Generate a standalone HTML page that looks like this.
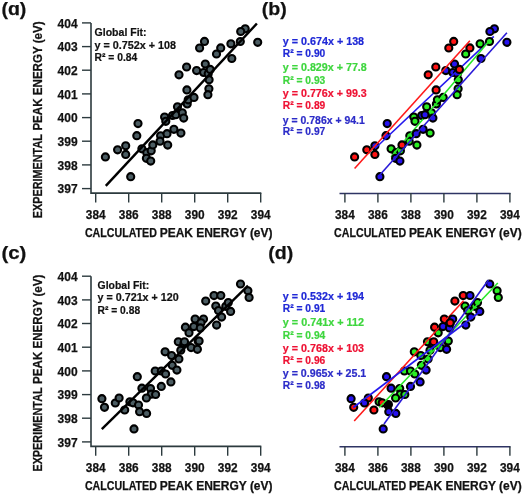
<!DOCTYPE html>
<html><head><meta charset="utf-8"><style>
html,body{margin:0;padding:0;background:#fff;width:524px;height:494px;overflow:hidden}
svg{display:block;will-change:transform}
</style></head><body>
<svg width="524" height="494" viewBox="0 0 524 494">
<rect width="524" height="494" fill="#fff"/>
<text x="1.4" y="15.2" font-family="Liberation Sans, sans-serif" font-weight="bold" stroke-width="0.25" paint-order="stroke" font-size="19" textLength="25" lengthAdjust="spacingAndGlyphs" fill="#111" stroke="#111">(ɑ)</text>
<line x1="82" y1="22.9" x2="91" y2="22.9" stroke="#2c3a3e" stroke-width="1.4"/>
<text x="77.6" y="27.5" font-family="Liberation Sans, sans-serif" font-weight="bold" stroke-width="0.25" paint-order="stroke" font-size="13" text-anchor="end" textLength="20" lengthAdjust="spacingAndGlyphs" fill="#111" stroke="#111">404</text>
<line x1="82" y1="46.6" x2="91" y2="46.6" stroke="#2c3a3e" stroke-width="1.4"/>
<text x="77.6" y="51.2" font-family="Liberation Sans, sans-serif" font-weight="bold" stroke-width="0.25" paint-order="stroke" font-size="13" text-anchor="end" textLength="20" lengthAdjust="spacingAndGlyphs" fill="#111" stroke="#111">403</text>
<line x1="82" y1="70.2" x2="91" y2="70.2" stroke="#2c3a3e" stroke-width="1.4"/>
<text x="77.6" y="74.8" font-family="Liberation Sans, sans-serif" font-weight="bold" stroke-width="0.25" paint-order="stroke" font-size="13" text-anchor="end" textLength="20" lengthAdjust="spacingAndGlyphs" fill="#111" stroke="#111">402</text>
<line x1="82" y1="93.9" x2="91" y2="93.9" stroke="#2c3a3e" stroke-width="1.4"/>
<text x="77.6" y="98.5" font-family="Liberation Sans, sans-serif" font-weight="bold" stroke-width="0.25" paint-order="stroke" font-size="13" text-anchor="end" textLength="20" lengthAdjust="spacingAndGlyphs" fill="#111" stroke="#111">401</text>
<line x1="82" y1="117.6" x2="91" y2="117.6" stroke="#2c3a3e" stroke-width="1.4"/>
<text x="77.6" y="122.2" font-family="Liberation Sans, sans-serif" font-weight="bold" stroke-width="0.25" paint-order="stroke" font-size="13" text-anchor="end" textLength="20" lengthAdjust="spacingAndGlyphs" fill="#111" stroke="#111">400</text>
<line x1="82" y1="141.2" x2="91" y2="141.2" stroke="#2c3a3e" stroke-width="1.4"/>
<text x="77.6" y="145.8" font-family="Liberation Sans, sans-serif" font-weight="bold" stroke-width="0.25" paint-order="stroke" font-size="13" text-anchor="end" textLength="20" lengthAdjust="spacingAndGlyphs" fill="#111" stroke="#111">399</text>
<line x1="82" y1="164.9" x2="91" y2="164.9" stroke="#2c3a3e" stroke-width="1.4"/>
<text x="77.6" y="169.5" font-family="Liberation Sans, sans-serif" font-weight="bold" stroke-width="0.25" paint-order="stroke" font-size="13" text-anchor="end" textLength="20" lengthAdjust="spacingAndGlyphs" fill="#111" stroke="#111">398</text>
<line x1="82" y1="188.6" x2="91" y2="188.6" stroke="#2c3a3e" stroke-width="1.4"/>
<text x="77.6" y="193.2" font-family="Liberation Sans, sans-serif" font-weight="bold" stroke-width="0.25" paint-order="stroke" font-size="13" text-anchor="end" textLength="20" lengthAdjust="spacingAndGlyphs" fill="#111" stroke="#111">397</text>
<text transform="translate(42.1 218.3) rotate(-90)" font-family="Liberation Sans, sans-serif" font-weight="bold" stroke-width="0.25" paint-order="stroke" font-size="12.7" textLength="84.2" lengthAdjust="spacingAndGlyphs" fill="#111" stroke="#111">EXPERIMENTAL</text>
<text transform="translate(42.1 130.6) rotate(-90)" font-family="Liberation Sans, sans-serif" font-weight="bold" stroke-width="0.25" paint-order="stroke" font-size="12.7" textLength="109.2" lengthAdjust="spacingAndGlyphs" fill="#111" stroke="#111">PEAK ENERGY (eV)</text>
<path d="M91.0 22.9 V193.1 H261.3" fill="none" stroke="#2c3a3e" stroke-width="1.6"/>
<line x1="95.7" y1="193.1" x2="95.7" y2="202.5" stroke="#2c3a3e" stroke-width="1.4"/>
<text x="95.7" y="219.1" font-family="Liberation Sans, sans-serif" font-weight="bold" stroke-width="0.25" paint-order="stroke" font-size="13" text-anchor="middle" textLength="19.8" lengthAdjust="spacingAndGlyphs" fill="#111" stroke="#111">384</text>
<line x1="128.7" y1="193.1" x2="128.7" y2="202.5" stroke="#2c3a3e" stroke-width="1.4"/>
<text x="128.7" y="219.1" font-family="Liberation Sans, sans-serif" font-weight="bold" stroke-width="0.25" paint-order="stroke" font-size="13" text-anchor="middle" textLength="19.8" lengthAdjust="spacingAndGlyphs" fill="#111" stroke="#111">386</text>
<line x1="161.7" y1="193.1" x2="161.7" y2="202.5" stroke="#2c3a3e" stroke-width="1.4"/>
<text x="161.7" y="219.1" font-family="Liberation Sans, sans-serif" font-weight="bold" stroke-width="0.25" paint-order="stroke" font-size="13" text-anchor="middle" textLength="19.8" lengthAdjust="spacingAndGlyphs" fill="#111" stroke="#111">388</text>
<line x1="194.7" y1="193.1" x2="194.7" y2="202.5" stroke="#2c3a3e" stroke-width="1.4"/>
<text x="194.7" y="219.1" font-family="Liberation Sans, sans-serif" font-weight="bold" stroke-width="0.25" paint-order="stroke" font-size="13" text-anchor="middle" textLength="19.8" lengthAdjust="spacingAndGlyphs" fill="#111" stroke="#111">390</text>
<line x1="227.7" y1="193.1" x2="227.7" y2="202.5" stroke="#2c3a3e" stroke-width="1.4"/>
<text x="227.7" y="219.1" font-family="Liberation Sans, sans-serif" font-weight="bold" stroke-width="0.25" paint-order="stroke" font-size="13" text-anchor="middle" textLength="19.8" lengthAdjust="spacingAndGlyphs" fill="#111" stroke="#111">392</text>
<line x1="260.7" y1="193.1" x2="260.7" y2="202.5" stroke="#2c3a3e" stroke-width="1.4"/>
<text x="260.7" y="219.1" font-family="Liberation Sans, sans-serif" font-weight="bold" stroke-width="0.25" paint-order="stroke" font-size="13" text-anchor="middle" textLength="19.8" lengthAdjust="spacingAndGlyphs" fill="#111" stroke="#111">394</text>
<text x="84.9" y="236.6" font-family="Liberation Sans, sans-serif" font-weight="bold" stroke-width="0.25" paint-order="stroke" font-size="12" textLength="72" lengthAdjust="spacingAndGlyphs" fill="#111" stroke="#111">CALCULATED</text>
<text x="159.7" y="236.6" font-family="Liberation Sans, sans-serif" font-weight="bold" stroke-width="0.25" paint-order="stroke" font-size="12" textLength="112.8" lengthAdjust="spacingAndGlyphs" fill="#111" stroke="#111">PEAK ENERGY (eV)</text>
<text x="94.6" y="36.0" font-family="Liberation Sans, sans-serif" font-weight="bold" stroke-width="0.22" paint-order="stroke" font-size="11.6" textLength="52" lengthAdjust="spacingAndGlyphs" fill="#111" stroke="#111">Global Fit:</text>
<text x="94.6" y="49.0" font-family="Liberation Sans, sans-serif" font-weight="bold" stroke-width="0.22" paint-order="stroke" font-size="11.6" textLength="81.5" lengthAdjust="spacingAndGlyphs" fill="#111" stroke="#111">y = 0.752x + 108</text>
<text x="94.6" y="61.2" font-family="Liberation Sans, sans-serif" font-weight="bold" stroke-width="0.22" paint-order="stroke" font-size="11.6" textLength="42.7" lengthAdjust="spacingAndGlyphs" fill="#111" stroke="#111">R² = 0.84</text>
<g stroke="#000" stroke-width="2.1"><circle cx="105.4" cy="156.9" r="3.55" fill="#4b5c62"/>
<circle cx="117.6" cy="149.8" r="3.55" fill="#4b5c62"/>
<circle cx="125.7" cy="145.8" r="3.55" fill="#4b5c62"/>
<circle cx="125.7" cy="154.4" r="3.55" fill="#4b5c62"/>
<circle cx="136.8" cy="135.7" r="3.55" fill="#4b5c62"/>
<circle cx="138.0" cy="123.6" r="3.55" fill="#4b5c62"/>
<circle cx="130.7" cy="176.7" r="3.55" fill="#4b5c62"/>
<circle cx="141.9" cy="148.8" r="3.55" fill="#4b5c62"/>
<circle cx="146.8" cy="152.7" r="3.55" fill="#4b5c62"/>
<circle cx="151.2" cy="150.8" r="3.55" fill="#4b5c62"/>
<circle cx="146.4" cy="158.3" r="3.55" fill="#4b5c62"/>
<circle cx="150.7" cy="161.1" r="3.55" fill="#4b5c62"/>
<circle cx="152.8" cy="144.9" r="3.55" fill="#4b5c62"/>
<circle cx="160.6" cy="135.8" r="3.55" fill="#4b5c62"/>
<circle cx="160.0" cy="141.2" r="3.55" fill="#4b5c62"/>
<circle cx="167.0" cy="133.7" r="3.55" fill="#4b5c62"/>
<circle cx="167.7" cy="145.1" r="3.55" fill="#4b5c62"/>
<circle cx="173.9" cy="129.3" r="3.55" fill="#4b5c62"/>
<circle cx="180.9" cy="133.1" r="3.55" fill="#4b5c62"/>
<circle cx="164.6" cy="117.0" r="3.55" fill="#4b5c62"/>
<circle cx="165.8" cy="121.3" r="3.55" fill="#4b5c62"/>
<circle cx="172.5" cy="115.5" r="3.55" fill="#4b5c62"/>
<circle cx="175.8" cy="114.7" r="3.55" fill="#4b5c62"/>
<circle cx="177.5" cy="106.8" r="3.55" fill="#4b5c62"/>
<circle cx="182.3" cy="112.8" r="3.55" fill="#4b5c62"/>
<circle cx="183.7" cy="118.1" r="3.55" fill="#4b5c62"/>
<circle cx="187.2" cy="104.0" r="3.55" fill="#4b5c62"/>
<circle cx="188.2" cy="99.8" r="3.55" fill="#4b5c62"/>
<circle cx="194.0" cy="97.4" r="3.55" fill="#4b5c62"/>
<circle cx="186.9" cy="89.9" r="3.55" fill="#4b5c62"/>
<circle cx="186.6" cy="67.0" r="3.55" fill="#4b5c62"/>
<circle cx="179.0" cy="74.8" r="3.55" fill="#4b5c62"/>
<circle cx="196.6" cy="70.6" r="3.55" fill="#4b5c62"/>
<circle cx="205.3" cy="64.0" r="3.55" fill="#4b5c62"/>
<circle cx="203.6" cy="72.5" r="3.55" fill="#4b5c62"/>
<circle cx="208.2" cy="73.8" r="3.55" fill="#4b5c62"/>
<circle cx="210.2" cy="69.4" r="3.55" fill="#4b5c62"/>
<circle cx="209.1" cy="79.8" r="3.55" fill="#4b5c62"/>
<circle cx="208.9" cy="88.8" r="3.55" fill="#4b5c62"/>
<circle cx="207.9" cy="94.7" r="3.55" fill="#4b5c62"/>
<circle cx="204.5" cy="41.4" r="3.55" fill="#4b5c62"/>
<circle cx="199.6" cy="48.0" r="3.55" fill="#4b5c62"/>
<circle cx="220.7" cy="47.9" r="3.55" fill="#4b5c62"/>
<circle cx="216.5" cy="54.0" r="3.55" fill="#4b5c62"/>
<circle cx="230.9" cy="43.8" r="3.55" fill="#4b5c62"/>
<circle cx="231.8" cy="58.5" r="3.55" fill="#4b5c62"/>
<circle cx="240.3" cy="41.5" r="3.55" fill="#4b5c62"/>
<circle cx="245.2" cy="28.8" r="3.55" fill="#4b5c62"/>
<circle cx="240.7" cy="31.5" r="3.55" fill="#4b5c62"/>
<circle cx="257.7" cy="42.3" r="3.55" fill="#4b5c62"/></g>
<line x1="105.8" y1="185.9" x2="256.9" y2="23.5" stroke="#000" stroke-width="2.4" stroke-linecap="butt"/>
<text x="261.8" y="15.2" font-family="Liberation Sans, sans-serif" font-weight="bold" stroke-width="0.25" paint-order="stroke" font-size="19" textLength="25" lengthAdjust="spacingAndGlyphs" fill="#111" stroke="#111">(b)</text>
<path d="M339.5 193.5 H510.5" fill="none" stroke="#2e3464" stroke-width="1.5"/>
<line x1="344.9" y1="193.1" x2="344.9" y2="202.5" stroke="#2c3a3e" stroke-width="1.4"/>
<text x="344.9" y="219.1" font-family="Liberation Sans, sans-serif" font-weight="bold" stroke-width="0.25" paint-order="stroke" font-size="13" text-anchor="middle" textLength="19.8" lengthAdjust="spacingAndGlyphs" fill="#111" stroke="#111">384</text>
<line x1="377.9" y1="193.1" x2="377.9" y2="202.5" stroke="#2c3a3e" stroke-width="1.4"/>
<text x="377.9" y="219.1" font-family="Liberation Sans, sans-serif" font-weight="bold" stroke-width="0.25" paint-order="stroke" font-size="13" text-anchor="middle" textLength="19.8" lengthAdjust="spacingAndGlyphs" fill="#111" stroke="#111">386</text>
<line x1="410.9" y1="193.1" x2="410.9" y2="202.5" stroke="#2c3a3e" stroke-width="1.4"/>
<text x="410.9" y="219.1" font-family="Liberation Sans, sans-serif" font-weight="bold" stroke-width="0.25" paint-order="stroke" font-size="13" text-anchor="middle" textLength="19.8" lengthAdjust="spacingAndGlyphs" fill="#111" stroke="#111">388</text>
<line x1="443.9" y1="193.1" x2="443.9" y2="202.5" stroke="#2c3a3e" stroke-width="1.4"/>
<text x="443.9" y="219.1" font-family="Liberation Sans, sans-serif" font-weight="bold" stroke-width="0.25" paint-order="stroke" font-size="13" text-anchor="middle" textLength="19.8" lengthAdjust="spacingAndGlyphs" fill="#111" stroke="#111">390</text>
<line x1="476.9" y1="193.1" x2="476.9" y2="202.5" stroke="#2c3a3e" stroke-width="1.4"/>
<text x="476.9" y="219.1" font-family="Liberation Sans, sans-serif" font-weight="bold" stroke-width="0.25" paint-order="stroke" font-size="13" text-anchor="middle" textLength="19.8" lengthAdjust="spacingAndGlyphs" fill="#111" stroke="#111">392</text>
<line x1="509.9" y1="193.1" x2="509.9" y2="202.5" stroke="#2c3a3e" stroke-width="1.4"/>
<text x="509.9" y="219.1" font-family="Liberation Sans, sans-serif" font-weight="bold" stroke-width="0.25" paint-order="stroke" font-size="13" text-anchor="middle" textLength="19.8" lengthAdjust="spacingAndGlyphs" fill="#111" stroke="#111">394</text>
<text x="334.1" y="236.6" font-family="Liberation Sans, sans-serif" font-weight="bold" stroke-width="0.25" paint-order="stroke" font-size="12" textLength="72" lengthAdjust="spacingAndGlyphs" fill="#111" stroke="#111">CALCULATED</text>
<text x="408.9" y="236.6" font-family="Liberation Sans, sans-serif" font-weight="bold" stroke-width="0.25" paint-order="stroke" font-size="12" textLength="112.8" lengthAdjust="spacingAndGlyphs" fill="#111" stroke="#111">PEAK ENERGY (eV)</text>
<text x="282.8" y="44.5" font-family="Liberation Sans, sans-serif" font-weight="bold" stroke-width="0.22" paint-order="stroke" font-size="11.6" textLength="81.3" lengthAdjust="spacingAndGlyphs" fill="#1f28d6" stroke="#1f28d6">y = 0.674x + 138</text>
<text x="282.8" y="56.7" font-family="Liberation Sans, sans-serif" font-weight="bold" stroke-width="0.22" paint-order="stroke" font-size="11.6" textLength="42.5" lengthAdjust="spacingAndGlyphs" fill="#1f28d6" stroke="#1f28d6">R² = 0.90</text>
<text x="282.8" y="71.2" font-family="Liberation Sans, sans-serif" font-weight="bold" stroke-width="0.22" paint-order="stroke" font-size="11.6" textLength="84" lengthAdjust="spacingAndGlyphs" fill="#3ed63e" stroke="#3ed63e">y = 0.829x + 77.8</text>
<text x="282.8" y="83.5" font-family="Liberation Sans, sans-serif" font-weight="bold" stroke-width="0.22" paint-order="stroke" font-size="11.6" textLength="42.5" lengthAdjust="spacingAndGlyphs" fill="#3ed63e" stroke="#3ed63e">R² = 0.93</text>
<text x="282.8" y="96.8" font-family="Liberation Sans, sans-serif" font-weight="bold" stroke-width="0.22" paint-order="stroke" font-size="11.6" textLength="84" lengthAdjust="spacingAndGlyphs" fill="#ee1133" stroke="#ee1133">y = 0.776x + 99.3</text>
<text x="282.8" y="109.0" font-family="Liberation Sans, sans-serif" font-weight="bold" stroke-width="0.22" paint-order="stroke" font-size="11.6" textLength="42.5" lengthAdjust="spacingAndGlyphs" fill="#ee1133" stroke="#ee1133">R² = 0.89</text>
<text x="282.8" y="123.5" font-family="Liberation Sans, sans-serif" font-weight="bold" stroke-width="0.22" paint-order="stroke" font-size="11.6" textLength="82" lengthAdjust="spacingAndGlyphs" fill="#2b2bc8" stroke="#2b2bc8">y = 0.786x + 94.1</text>
<text x="282.8" y="134.7" font-family="Liberation Sans, sans-serif" font-weight="bold" stroke-width="0.22" paint-order="stroke" font-size="11.6" textLength="42.5" lengthAdjust="spacingAndGlyphs" fill="#2b2bc8" stroke="#2b2bc8">R² = 0.97</text>
<g stroke="#000" stroke-width="2.1"><circle cx="374.9" cy="145.8" r="3.55" fill="#2612f0"/>
<circle cx="386.0" cy="135.7" r="3.55" fill="#2612f0"/>
<circle cx="387.2" cy="123.6" r="3.55" fill="#2612f0"/>
<circle cx="421.7" cy="115.5" r="3.55" fill="#2612f0"/>
<circle cx="445.8" cy="70.6" r="3.55" fill="#2612f0"/>
<circle cx="454.5" cy="64.0" r="3.55" fill="#2612f0"/>
<circle cx="452.8" cy="72.5" r="3.55" fill="#2612f0"/>
<circle cx="457.4" cy="73.8" r="3.55" fill="#2612f0"/>
<circle cx="494.4" cy="28.8" r="3.55" fill="#2612f0"/>
<circle cx="489.9" cy="31.5" r="3.55" fill="#2612f0"/></g>
<line x1="375" y1="148.5" x2="493.8" y2="36.3" stroke="#2418ee" stroke-width="1.6"/>
<g stroke="#000" stroke-width="2.1"><circle cx="391.1" cy="148.8" r="3.55" fill="#2aee22"/>
<circle cx="396.0" cy="152.7" r="3.55" fill="#2aee22"/>
<circle cx="400.4" cy="150.8" r="3.55" fill="#2aee22"/>
<circle cx="409.8" cy="135.8" r="3.55" fill="#2aee22"/>
<circle cx="409.2" cy="141.2" r="3.55" fill="#2aee22"/>
<circle cx="416.9" cy="145.1" r="3.55" fill="#2aee22"/>
<circle cx="430.1" cy="133.1" r="3.55" fill="#2aee22"/>
<circle cx="413.8" cy="117.0" r="3.55" fill="#2aee22"/>
<circle cx="415.0" cy="121.3" r="3.55" fill="#2aee22"/>
<circle cx="426.7" cy="106.8" r="3.55" fill="#2aee22"/>
<circle cx="431.5" cy="112.8" r="3.55" fill="#2aee22"/>
<circle cx="436.4" cy="104.0" r="3.55" fill="#2aee22"/>
<circle cx="437.4" cy="99.8" r="3.55" fill="#2aee22"/>
<circle cx="443.2" cy="97.4" r="3.55" fill="#2aee22"/>
<circle cx="458.3" cy="79.8" r="3.55" fill="#2aee22"/>
<circle cx="458.1" cy="88.8" r="3.55" fill="#2aee22"/>
<circle cx="457.1" cy="94.7" r="3.55" fill="#2aee22"/>
<circle cx="465.7" cy="54.0" r="3.55" fill="#2aee22"/>
<circle cx="480.1" cy="43.8" r="3.55" fill="#2aee22"/>
<circle cx="489.5" cy="41.5" r="3.55" fill="#2aee22"/></g>
<line x1="391.1" y1="156.8" x2="489.5" y2="40.4" stroke="#2ae82a" stroke-width="1.6"/>
<g stroke="#000" stroke-width="2.1"><circle cx="354.6" cy="156.9" r="3.55" fill="#ff1414"/>
<circle cx="366.8" cy="149.8" r="3.55" fill="#ff1414"/>
<circle cx="374.9" cy="154.4" r="3.55" fill="#ff1414"/>
<circle cx="402.0" cy="144.9" r="3.55" fill="#ff1414"/>
<circle cx="436.1" cy="89.9" r="3.55" fill="#ff1414"/>
<circle cx="435.8" cy="67.0" r="3.55" fill="#ff1414"/>
<circle cx="428.2" cy="74.8" r="3.55" fill="#ff1414"/>
<circle cx="459.4" cy="69.4" r="3.55" fill="#ff1414"/>
<circle cx="453.7" cy="41.4" r="3.55" fill="#ff1414"/>
<circle cx="448.8" cy="48.0" r="3.55" fill="#ff1414"/>
<circle cx="469.9" cy="47.9" r="3.55" fill="#ff1414"/></g>
<line x1="354.6" y1="168.5" x2="469.9" y2="40.7" stroke="#ff1a1a" stroke-width="1.6"/>
<g stroke="#000" stroke-width="2.1"><circle cx="379.9" cy="176.7" r="3.55" fill="#2612f0"/>
<circle cx="395.6" cy="158.3" r="3.55" fill="#2612f0"/>
<circle cx="399.9" cy="161.1" r="3.55" fill="#2612f0"/>
<circle cx="416.2" cy="133.7" r="3.55" fill="#2612f0"/>
<circle cx="423.1" cy="129.3" r="3.55" fill="#2612f0"/>
<circle cx="425.0" cy="114.7" r="3.55" fill="#2612f0"/>
<circle cx="432.9" cy="118.1" r="3.55" fill="#2612f0"/>
<circle cx="481.0" cy="58.5" r="3.55" fill="#2612f0"/>
<circle cx="506.9" cy="42.3" r="3.55" fill="#2612f0"/></g>
<line x1="379.8" y1="175" x2="506.9" y2="32.7" stroke="#2a1ad8" stroke-width="1.6"/>
<text x="1.4" y="259.2" font-family="Liberation Sans, sans-serif" font-weight="bold" stroke-width="0.25" paint-order="stroke" font-size="19" textLength="25" lengthAdjust="spacingAndGlyphs" fill="#111" stroke="#111">(c)</text>
<line x1="82" y1="276.2" x2="91" y2="276.2" stroke="#2c3a3e" stroke-width="1.4"/>
<text x="77.6" y="280.8" font-family="Liberation Sans, sans-serif" font-weight="bold" stroke-width="0.25" paint-order="stroke" font-size="13" text-anchor="end" textLength="20" lengthAdjust="spacingAndGlyphs" fill="#111" stroke="#111">404</text>
<line x1="82" y1="299.9" x2="91" y2="299.9" stroke="#2c3a3e" stroke-width="1.4"/>
<text x="77.6" y="304.5" font-family="Liberation Sans, sans-serif" font-weight="bold" stroke-width="0.25" paint-order="stroke" font-size="13" text-anchor="end" textLength="20" lengthAdjust="spacingAndGlyphs" fill="#111" stroke="#111">403</text>
<line x1="82" y1="323.5" x2="91" y2="323.5" stroke="#2c3a3e" stroke-width="1.4"/>
<text x="77.6" y="328.1" font-family="Liberation Sans, sans-serif" font-weight="bold" stroke-width="0.25" paint-order="stroke" font-size="13" text-anchor="end" textLength="20" lengthAdjust="spacingAndGlyphs" fill="#111" stroke="#111">402</text>
<line x1="82" y1="347.2" x2="91" y2="347.2" stroke="#2c3a3e" stroke-width="1.4"/>
<text x="77.6" y="351.8" font-family="Liberation Sans, sans-serif" font-weight="bold" stroke-width="0.25" paint-order="stroke" font-size="13" text-anchor="end" textLength="20" lengthAdjust="spacingAndGlyphs" fill="#111" stroke="#111">401</text>
<line x1="82" y1="370.9" x2="91" y2="370.9" stroke="#2c3a3e" stroke-width="1.4"/>
<text x="77.6" y="375.5" font-family="Liberation Sans, sans-serif" font-weight="bold" stroke-width="0.25" paint-order="stroke" font-size="13" text-anchor="end" textLength="20" lengthAdjust="spacingAndGlyphs" fill="#111" stroke="#111">400</text>
<line x1="82" y1="394.6" x2="91" y2="394.6" stroke="#2c3a3e" stroke-width="1.4"/>
<text x="77.6" y="399.2" font-family="Liberation Sans, sans-serif" font-weight="bold" stroke-width="0.25" paint-order="stroke" font-size="13" text-anchor="end" textLength="20" lengthAdjust="spacingAndGlyphs" fill="#111" stroke="#111">399</text>
<line x1="82" y1="418.2" x2="91" y2="418.2" stroke="#2c3a3e" stroke-width="1.4"/>
<text x="77.6" y="422.8" font-family="Liberation Sans, sans-serif" font-weight="bold" stroke-width="0.25" paint-order="stroke" font-size="13" text-anchor="end" textLength="20" lengthAdjust="spacingAndGlyphs" fill="#111" stroke="#111">398</text>
<line x1="82" y1="441.9" x2="91" y2="441.9" stroke="#2c3a3e" stroke-width="1.4"/>
<text x="77.6" y="446.5" font-family="Liberation Sans, sans-serif" font-weight="bold" stroke-width="0.25" paint-order="stroke" font-size="13" text-anchor="end" textLength="20" lengthAdjust="spacingAndGlyphs" fill="#111" stroke="#111">397</text>
<text transform="translate(42.1 471.6) rotate(-90)" font-family="Liberation Sans, sans-serif" font-weight="bold" stroke-width="0.25" paint-order="stroke" font-size="12.7" textLength="84.2" lengthAdjust="spacingAndGlyphs" fill="#111" stroke="#111">EXPERIMENTAL</text>
<text transform="translate(42.1 383.9) rotate(-90)" font-family="Liberation Sans, sans-serif" font-weight="bold" stroke-width="0.25" paint-order="stroke" font-size="12.7" textLength="109.2" lengthAdjust="spacingAndGlyphs" fill="#111" stroke="#111">PEAK ENERGY (eV)</text>
<path d="M91.0 276.2 V446.4 H261.3" fill="none" stroke="#2c3a3e" stroke-width="1.6"/>
<line x1="95.7" y1="446.4" x2="95.7" y2="455.8" stroke="#2c3a3e" stroke-width="1.4"/>
<text x="95.7" y="472.4" font-family="Liberation Sans, sans-serif" font-weight="bold" stroke-width="0.25" paint-order="stroke" font-size="13" text-anchor="middle" textLength="19.8" lengthAdjust="spacingAndGlyphs" fill="#111" stroke="#111">384</text>
<line x1="128.7" y1="446.4" x2="128.7" y2="455.8" stroke="#2c3a3e" stroke-width="1.4"/>
<text x="128.7" y="472.4" font-family="Liberation Sans, sans-serif" font-weight="bold" stroke-width="0.25" paint-order="stroke" font-size="13" text-anchor="middle" textLength="19.8" lengthAdjust="spacingAndGlyphs" fill="#111" stroke="#111">386</text>
<line x1="161.7" y1="446.4" x2="161.7" y2="455.8" stroke="#2c3a3e" stroke-width="1.4"/>
<text x="161.7" y="472.4" font-family="Liberation Sans, sans-serif" font-weight="bold" stroke-width="0.25" paint-order="stroke" font-size="13" text-anchor="middle" textLength="19.8" lengthAdjust="spacingAndGlyphs" fill="#111" stroke="#111">388</text>
<line x1="194.7" y1="446.4" x2="194.7" y2="455.8" stroke="#2c3a3e" stroke-width="1.4"/>
<text x="194.7" y="472.4" font-family="Liberation Sans, sans-serif" font-weight="bold" stroke-width="0.25" paint-order="stroke" font-size="13" text-anchor="middle" textLength="19.8" lengthAdjust="spacingAndGlyphs" fill="#111" stroke="#111">390</text>
<line x1="227.7" y1="446.4" x2="227.7" y2="455.8" stroke="#2c3a3e" stroke-width="1.4"/>
<text x="227.7" y="472.4" font-family="Liberation Sans, sans-serif" font-weight="bold" stroke-width="0.25" paint-order="stroke" font-size="13" text-anchor="middle" textLength="19.8" lengthAdjust="spacingAndGlyphs" fill="#111" stroke="#111">392</text>
<line x1="260.7" y1="446.4" x2="260.7" y2="455.8" stroke="#2c3a3e" stroke-width="1.4"/>
<text x="260.7" y="472.4" font-family="Liberation Sans, sans-serif" font-weight="bold" stroke-width="0.25" paint-order="stroke" font-size="13" text-anchor="middle" textLength="19.8" lengthAdjust="spacingAndGlyphs" fill="#111" stroke="#111">394</text>
<text x="84.9" y="489.9" font-family="Liberation Sans, sans-serif" font-weight="bold" stroke-width="0.25" paint-order="stroke" font-size="12" textLength="72" lengthAdjust="spacingAndGlyphs" fill="#111" stroke="#111">CALCULATED</text>
<text x="159.7" y="489.9" font-family="Liberation Sans, sans-serif" font-weight="bold" stroke-width="0.25" paint-order="stroke" font-size="12" textLength="112.8" lengthAdjust="spacingAndGlyphs" fill="#111" stroke="#111">PEAK ENERGY (eV)</text>
<text x="97.6" y="289.1" font-family="Liberation Sans, sans-serif" font-weight="bold" stroke-width="0.22" paint-order="stroke" font-size="11.6" textLength="51.6" lengthAdjust="spacingAndGlyphs" fill="#111" stroke="#111">Global Fit:</text>
<text x="97.6" y="300.9" font-family="Liberation Sans, sans-serif" font-weight="bold" stroke-width="0.22" paint-order="stroke" font-size="11.6" textLength="81.1" lengthAdjust="spacingAndGlyphs" fill="#111" stroke="#111">y = 0.721x + 120</text>
<text x="97.6" y="313.5" font-family="Liberation Sans, sans-serif" font-weight="bold" stroke-width="0.22" paint-order="stroke" font-size="11.6" textLength="42.5" lengthAdjust="spacingAndGlyphs" fill="#111" stroke="#111">R² = 0.88</text>
<g stroke="#000" stroke-width="2.1"><circle cx="101.9" cy="398.7" r="3.55" fill="#4b5c62"/>
<circle cx="104.5" cy="407.3" r="3.55" fill="#4b5c62"/>
<circle cx="115.3" cy="403.0" r="3.55" fill="#4b5c62"/>
<circle cx="119.1" cy="398.0" r="3.55" fill="#4b5c62"/>
<circle cx="124.7" cy="410.0" r="3.55" fill="#4b5c62"/>
<circle cx="129.9" cy="401.8" r="3.55" fill="#4b5c62"/>
<circle cx="133.0" cy="402.8" r="3.55" fill="#4b5c62"/>
<circle cx="134.0" cy="428.9" r="3.55" fill="#4b5c62"/>
<circle cx="137.3" cy="376.7" r="3.55" fill="#4b5c62"/>
<circle cx="138.5" cy="405.0" r="3.55" fill="#4b5c62"/>
<circle cx="139.6" cy="411.7" r="3.55" fill="#4b5c62"/>
<circle cx="146.6" cy="413.4" r="3.55" fill="#4b5c62"/>
<circle cx="141.9" cy="388.2" r="3.55" fill="#4b5c62"/>
<circle cx="150.5" cy="388.5" r="3.55" fill="#4b5c62"/>
<circle cx="151.2" cy="394.2" r="3.55" fill="#4b5c62"/>
<circle cx="155.6" cy="394.5" r="3.55" fill="#4b5c62"/>
<circle cx="146.4" cy="398.0" r="3.55" fill="#4b5c62"/>
<circle cx="161.3" cy="386.4" r="3.55" fill="#4b5c62"/>
<circle cx="170.9" cy="381.9" r="3.55" fill="#4b5c62"/>
<circle cx="155.2" cy="371.0" r="3.55" fill="#4b5c62"/>
<circle cx="161.3" cy="371.0" r="3.55" fill="#4b5c62"/>
<circle cx="165.6" cy="374.0" r="3.55" fill="#4b5c62"/>
<circle cx="165.1" cy="351.8" r="3.55" fill="#4b5c62"/>
<circle cx="171.6" cy="355.5" r="3.55" fill="#4b5c62"/>
<circle cx="178.9" cy="359.0" r="3.55" fill="#4b5c62"/>
<circle cx="172.2" cy="365.3" r="3.55" fill="#4b5c62"/>
<circle cx="176.9" cy="370.1" r="3.55" fill="#4b5c62"/>
<circle cx="178.3" cy="341.8" r="3.55" fill="#4b5c62"/>
<circle cx="183.9" cy="343.5" r="3.55" fill="#4b5c62"/>
<circle cx="180.8" cy="350.2" r="3.55" fill="#4b5c62"/>
<circle cx="191.1" cy="347.6" r="3.55" fill="#4b5c62"/>
<circle cx="197.4" cy="349.3" r="3.55" fill="#4b5c62"/>
<circle cx="198.2" cy="341.2" r="3.55" fill="#4b5c62"/>
<circle cx="185.4" cy="327.2" r="3.55" fill="#4b5c62"/>
<circle cx="189.0" cy="332.8" r="3.55" fill="#4b5c62"/>
<circle cx="193.8" cy="326.6" r="3.55" fill="#4b5c62"/>
<circle cx="195.1" cy="319.1" r="3.55" fill="#4b5c62"/>
<circle cx="203.5" cy="319.0" r="3.55" fill="#4b5c62"/>
<circle cx="201.0" cy="322.8" r="3.55" fill="#4b5c62"/>
<circle cx="200.3" cy="327.9" r="3.55" fill="#4b5c62"/>
<circle cx="199.1" cy="341.1" r="3.55" fill="#4b5c62"/>
<circle cx="184.5" cy="341.8" r="3.55" fill="#4b5c62"/>
<circle cx="205.7" cy="301.1" r="3.55" fill="#4b5c62"/>
<circle cx="214.0" cy="295.6" r="3.55" fill="#4b5c62"/>
<circle cx="220.8" cy="295.5" r="3.55" fill="#4b5c62"/>
<circle cx="215.8" cy="306.1" r="3.55" fill="#4b5c62"/>
<circle cx="225.8" cy="306.3" r="3.55" fill="#4b5c62"/>
<circle cx="228.3" cy="302.6" r="3.55" fill="#4b5c62"/>
<circle cx="218.5" cy="310.5" r="3.55" fill="#4b5c62"/>
<circle cx="221.6" cy="317.1" r="3.55" fill="#4b5c62"/>
<circle cx="216.6" cy="325.1" r="3.55" fill="#4b5c62"/>
<circle cx="230.6" cy="311.4" r="3.55" fill="#4b5c62"/>
<circle cx="240.5" cy="284.0" r="3.55" fill="#4b5c62"/>
<circle cx="247.9" cy="290.8" r="3.55" fill="#4b5c62"/>
<circle cx="249.1" cy="297.4" r="3.55" fill="#4b5c62"/></g>
<line x1="101.8" y1="429.2" x2="248" y2="285.7" stroke="#000" stroke-width="2.4" stroke-linecap="butt"/>
<text x="268.3" y="258.6" font-family="Liberation Sans, sans-serif" font-weight="bold" stroke-width="0.25" paint-order="stroke" font-size="19" textLength="25" lengthAdjust="spacingAndGlyphs" fill="#111" stroke="#111">(d)</text>
<path d="M339.5 446.8 H510.5" fill="none" stroke="#2e3464" stroke-width="1.5"/>
<line x1="344.9" y1="446.4" x2="344.9" y2="455.8" stroke="#2c3a3e" stroke-width="1.4"/>
<text x="344.9" y="472.4" font-family="Liberation Sans, sans-serif" font-weight="bold" stroke-width="0.25" paint-order="stroke" font-size="13" text-anchor="middle" textLength="19.8" lengthAdjust="spacingAndGlyphs" fill="#111" stroke="#111">384</text>
<line x1="377.9" y1="446.4" x2="377.9" y2="455.8" stroke="#2c3a3e" stroke-width="1.4"/>
<text x="377.9" y="472.4" font-family="Liberation Sans, sans-serif" font-weight="bold" stroke-width="0.25" paint-order="stroke" font-size="13" text-anchor="middle" textLength="19.8" lengthAdjust="spacingAndGlyphs" fill="#111" stroke="#111">386</text>
<line x1="410.9" y1="446.4" x2="410.9" y2="455.8" stroke="#2c3a3e" stroke-width="1.4"/>
<text x="410.9" y="472.4" font-family="Liberation Sans, sans-serif" font-weight="bold" stroke-width="0.25" paint-order="stroke" font-size="13" text-anchor="middle" textLength="19.8" lengthAdjust="spacingAndGlyphs" fill="#111" stroke="#111">388</text>
<line x1="443.9" y1="446.4" x2="443.9" y2="455.8" stroke="#2c3a3e" stroke-width="1.4"/>
<text x="443.9" y="472.4" font-family="Liberation Sans, sans-serif" font-weight="bold" stroke-width="0.25" paint-order="stroke" font-size="13" text-anchor="middle" textLength="19.8" lengthAdjust="spacingAndGlyphs" fill="#111" stroke="#111">390</text>
<line x1="476.9" y1="446.4" x2="476.9" y2="455.8" stroke="#2c3a3e" stroke-width="1.4"/>
<text x="476.9" y="472.4" font-family="Liberation Sans, sans-serif" font-weight="bold" stroke-width="0.25" paint-order="stroke" font-size="13" text-anchor="middle" textLength="19.8" lengthAdjust="spacingAndGlyphs" fill="#111" stroke="#111">392</text>
<line x1="509.9" y1="446.4" x2="509.9" y2="455.8" stroke="#2c3a3e" stroke-width="1.4"/>
<text x="509.9" y="472.4" font-family="Liberation Sans, sans-serif" font-weight="bold" stroke-width="0.25" paint-order="stroke" font-size="13" text-anchor="middle" textLength="19.8" lengthAdjust="spacingAndGlyphs" fill="#111" stroke="#111">394</text>
<text x="334.1" y="489.9" font-family="Liberation Sans, sans-serif" font-weight="bold" stroke-width="0.25" paint-order="stroke" font-size="12" textLength="72" lengthAdjust="spacingAndGlyphs" fill="#111" stroke="#111">CALCULATED</text>
<text x="408.9" y="489.9" font-family="Liberation Sans, sans-serif" font-weight="bold" stroke-width="0.25" paint-order="stroke" font-size="12" textLength="112.8" lengthAdjust="spacingAndGlyphs" fill="#111" stroke="#111">PEAK ENERGY (eV)</text>
<text x="282.8" y="300.1" font-family="Liberation Sans, sans-serif" font-weight="bold" stroke-width="0.22" paint-order="stroke" font-size="11.6" textLength="81.3" lengthAdjust="spacingAndGlyphs" fill="#1f28d6" stroke="#1f28d6">y = 0.532x + 194</text>
<text x="282.8" y="312.2" font-family="Liberation Sans, sans-serif" font-weight="bold" stroke-width="0.22" paint-order="stroke" font-size="11.6" textLength="42.5" lengthAdjust="spacingAndGlyphs" fill="#1f28d6" stroke="#1f28d6">R² = 0.91</text>
<text x="282.8" y="326.2" font-family="Liberation Sans, sans-serif" font-weight="bold" stroke-width="0.22" paint-order="stroke" font-size="11.6" textLength="81.3" lengthAdjust="spacingAndGlyphs" fill="#3ed63e" stroke="#3ed63e">y = 0.741x + 112</text>
<text x="282.8" y="338.5" font-family="Liberation Sans, sans-serif" font-weight="bold" stroke-width="0.22" paint-order="stroke" font-size="11.6" textLength="42.5" lengthAdjust="spacingAndGlyphs" fill="#3ed63e" stroke="#3ed63e">R² = 0.94</text>
<text x="282.8" y="352.3" font-family="Liberation Sans, sans-serif" font-weight="bold" stroke-width="0.22" paint-order="stroke" font-size="11.6" textLength="81.3" lengthAdjust="spacingAndGlyphs" fill="#ee1133" stroke="#ee1133">y = 0.768x + 103</text>
<text x="282.8" y="364.1" font-family="Liberation Sans, sans-serif" font-weight="bold" stroke-width="0.22" paint-order="stroke" font-size="11.6" textLength="42.5" lengthAdjust="spacingAndGlyphs" fill="#ee1133" stroke="#ee1133">R² = 0.96</text>
<text x="282.8" y="376.8" font-family="Liberation Sans, sans-serif" font-weight="bold" stroke-width="0.22" paint-order="stroke" font-size="11.6" textLength="83.5" lengthAdjust="spacingAndGlyphs" fill="#2b2bc8" stroke="#2b2bc8">y = 0.965x + 25.1</text>
<text x="282.8" y="388.6" font-family="Liberation Sans, sans-serif" font-weight="bold" stroke-width="0.22" paint-order="stroke" font-size="11.6" textLength="42.5" lengthAdjust="spacingAndGlyphs" fill="#2b2bc8" stroke="#2b2bc8">R² = 0.98</text>
<g stroke="#000" stroke-width="2.1"><circle cx="379.1" cy="401.8" r="3.55" fill="#2aee22"/>
<circle cx="387.7" cy="405.0" r="3.55" fill="#2aee22"/>
<circle cx="399.7" cy="388.5" r="3.55" fill="#2aee22"/>
<circle cx="400.4" cy="394.2" r="3.55" fill="#2aee22"/>
<circle cx="404.8" cy="394.5" r="3.55" fill="#2aee22"/>
<circle cx="395.6" cy="398.0" r="3.55" fill="#2aee22"/>
<circle cx="404.4" cy="371.0" r="3.55" fill="#2aee22"/>
<circle cx="410.5" cy="371.0" r="3.55" fill="#2aee22"/>
<circle cx="414.8" cy="374.0" r="3.55" fill="#2aee22"/>
<circle cx="414.3" cy="351.8" r="3.55" fill="#2aee22"/>
<circle cx="420.8" cy="355.5" r="3.55" fill="#2aee22"/>
<circle cx="428.1" cy="359.0" r="3.55" fill="#2aee22"/>
<circle cx="421.4" cy="365.3" r="3.55" fill="#2aee22"/>
<circle cx="427.5" cy="341.8" r="3.55" fill="#2aee22"/>
<circle cx="430.0" cy="350.2" r="3.55" fill="#2aee22"/>
<circle cx="440.3" cy="347.6" r="3.55" fill="#2aee22"/>
<circle cx="447.4" cy="341.2" r="3.55" fill="#2aee22"/>
<circle cx="438.2" cy="332.8" r="3.55" fill="#2aee22"/>
<circle cx="448.3" cy="341.1" r="3.55" fill="#2aee22"/>
<circle cx="465.0" cy="306.1" r="3.55" fill="#2aee22"/>
<circle cx="475.0" cy="306.3" r="3.55" fill="#2aee22"/>
<circle cx="477.5" cy="302.6" r="3.55" fill="#2aee22"/>
<circle cx="467.7" cy="310.5" r="3.55" fill="#2aee22"/>
<circle cx="497.1" cy="290.8" r="3.55" fill="#2aee22"/>
<circle cx="498.3" cy="297.4" r="3.55" fill="#2aee22"/></g>
<g stroke="#000" stroke-width="2.1"><circle cx="353.7" cy="407.3" r="3.55" fill="#ff1414"/>
<circle cx="368.3" cy="398.0" r="3.55" fill="#ff1414"/>
<circle cx="373.9" cy="410.0" r="3.55" fill="#ff1414"/>
<circle cx="382.2" cy="402.8" r="3.55" fill="#ff1414"/>
<circle cx="433.1" cy="343.5" r="3.55" fill="#ff1414"/>
<circle cx="434.6" cy="327.2" r="3.55" fill="#ff1414"/>
<circle cx="444.3" cy="319.1" r="3.55" fill="#ff1414"/>
<circle cx="450.2" cy="322.8" r="3.55" fill="#ff1414"/>
<circle cx="433.7" cy="341.8" r="3.55" fill="#ff1414"/>
<circle cx="454.9" cy="301.1" r="3.55" fill="#ff1414"/>
<circle cx="463.2" cy="295.6" r="3.55" fill="#ff1414"/>
<circle cx="388.4" cy="404.6" r="3.55" fill="#000"/></g>
<line x1="354.2" y1="421" x2="463.5" y2="300.8" stroke="#ff1a1a" stroke-width="1.6"/>
<line x1="379.3" y1="407.5" x2="497.8" y2="283" stroke="#2ae82a" stroke-width="1.6"/>
<g stroke="#000" stroke-width="2.1"><circle cx="351.1" cy="398.7" r="3.55" fill="#2612f0"/>
<circle cx="364.5" cy="403.0" r="3.55" fill="#2612f0"/>
<circle cx="386.5" cy="376.7" r="3.55" fill="#2612f0"/>
<circle cx="391.1" cy="388.2" r="3.55" fill="#2612f0"/>
<circle cx="470.8" cy="317.1" r="3.55" fill="#2612f0"/>
<circle cx="465.8" cy="325.1" r="3.55" fill="#2612f0"/>
<circle cx="479.8" cy="311.4" r="3.55" fill="#2612f0"/></g>
<line x1="353.3" y1="407.5" x2="480.3" y2="311.5" stroke="#2418ee" stroke-width="1.6"/>
<g stroke="#000" stroke-width="2.1"><circle cx="383.2" cy="428.9" r="3.55" fill="#2612f0"/>
<circle cx="388.8" cy="411.7" r="3.55" fill="#2612f0"/>
<circle cx="395.8" cy="413.4" r="3.55" fill="#2612f0"/>
<circle cx="410.5" cy="386.4" r="3.55" fill="#2612f0"/>
<circle cx="420.1" cy="381.9" r="3.55" fill="#2612f0"/>
<circle cx="426.1" cy="370.1" r="3.55" fill="#2612f0"/>
<circle cx="446.6" cy="349.3" r="3.55" fill="#2612f0"/>
<circle cx="443.0" cy="326.6" r="3.55" fill="#2612f0"/>
<circle cx="452.7" cy="319.0" r="3.55" fill="#2612f0"/>
<circle cx="449.5" cy="327.9" r="3.55" fill="#2612f0"/>
<circle cx="470.0" cy="295.5" r="3.55" fill="#2612f0"/>
<circle cx="489.7" cy="284.0" r="3.55" fill="#2612f0"/></g>
<line x1="384" y1="424" x2="488.5" y2="280" stroke="#2a1ad8" stroke-width="1.6"/>
<g stroke="#000" stroke-width="2.1"><circle cx="450.2" cy="322.8" r="3.55" fill="#ff1414"/></g>
</svg>
</body></html>
